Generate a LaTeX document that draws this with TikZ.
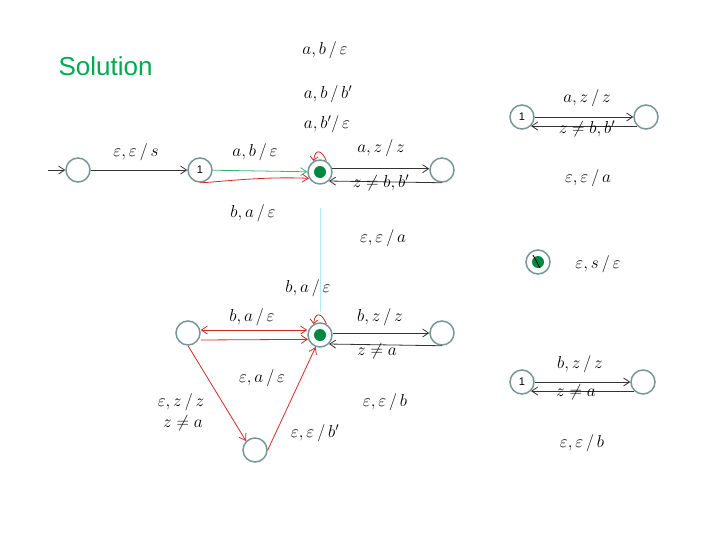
\documentclass[tikz,border=0pt]{standalone}
\usepackage{fontspec}
\setsansfont{Liberation Sans}
\usetikzlibrary{arrows.meta}
\definecolor{sgreen}{RGB}{0,170,80}
\definecolor{ring}{RGB}{120,150,150}
\definecolor{rd}{RGB}{210,40,40}
\definecolor{gr}{RGB}{60,180,120}
\begin{document}
\begin{tikzpicture}[x=1pt,y=-1pt,
 st/.style={circle,draw=ring,line width=1.5pt,minimum size=24pt,inner sep=0pt,font=\sffamily\fontsize{11}{12}\selectfont},
 acc/.style={st,path picture={\fill[sgreen!80!black] (path picture bounding box.center) circle (6pt);}},
 lb/.style={font=\fontsize{18.5}{20}\selectfont},
 ar/.style={-{Straight Barb[length=6pt,width=8pt]},line width=0.8pt},
 bk/.style={ar,black!80},
 rr/.style={ar,rd},
]
\useasboundingbox (0,0) rectangle (728,546);
\node[font=\sffamily\fontsize{26}{28}\selectfont,text=sgreen,anchor=west] (title) at (55,66) {Solution};
% top
\coordinate (s0) at (48,170);
\node[st] (a) at (78,170) {};
\node[st] (q1) at (200,170) {1};
\node[acc] (q2) at (320,172) {};
\node[st] (q3) at (442,170) {};
\draw[bk] (s0) -- (a);
\draw[bk] (a) -- (q1);
\draw[ar,gr] (q1) -- (q2);
\draw[rr] (q1.south) .. controls (210,183) and (260,176) .. (q2.210);
\draw[rd,-{Straight Barb[length=4pt]},line width=0.8pt] (q2.60) .. controls (322,150) and (315,148) .. (q2.120);
\draw[bk] (q2.15) -- (q3.west|-q2.15);
\draw[bk] (q3.south) -- (q2.south east);
\draw[cyan!30,line width=0.6pt] (320,208) -- (320,312);
% bottom
\node[st] (l) at (188,333) {};
\node[acc] (c) at (320,335) {};
\node[st] (r) at (442,333) {};
\node[st] (b) at (255,450) {};
\draw[rd,{Straight Barb[length=6pt,width=8pt]}-{Straight Barb[length=6pt,width=8pt]},line width=0.8pt] (l.east|-0,330) -- (c.west|-0,330);
\draw[rr] (l.east|-0,340) -- (c.200);
\draw[rd,-{Straight Barb[length=4pt]},line width=0.8pt] (c.60) .. controls (322,313) and (315,311) .. (c.120);
\draw[bk] (c.east|-0,333) -- (r.west);
\draw[bk] (r.south) -- (c.south east);
\draw[rr] (l.south) -- (b.north west);
\draw[rr] (b.east) -- (c.250);
% right panel
\node[st] (p1) at (522,117) {1};
\node[st] (p2) at (646,117) {};
\draw[bk] (p1.east) -- (p2.west);
\draw[bk] (p2.south west) -- (p1.south east);
\node[acc] (pd) at (538,262) {};
\draw[black,line width=0.8pt] (533,255) -- (540,268);
\node[st] (p3) at (522,382) {1};
\node[st] (p4) at (643,382) {};
\draw[bk] (p3.east) -- (p4.west);
\draw[bk] (p4.south west) -- (p3.south east);
% labels
\node[lb] (t1) at (325,50) {$a,b\,/\,\varepsilon$};
\node[lb] (t2) at (328,94) {$a,b\,/\,b'$};
\node[lb] (t3) at (327,124) {$a,b'/\,\varepsilon$};
\node[lb] (t4) at (136,152) {$\varepsilon,\varepsilon\,/\,s$};
\node[lb] (t5) at (255,152) {$a,b\,/\,\varepsilon$};
\node[lb] (t6) at (381,148) {$a,z\,/\,z$};
\node[lb] (t7) at (381,183) {$z\neq b,b'$};
\node[lb] (t8) at (253,213) {$b,a\,/\,\varepsilon$};
\node[lb] (t9) at (383,238) {$\varepsilon,\varepsilon\,/\,a$};
\node[lb] (t10) at (308,288) {$b,a\,/\,\varepsilon$};
\node[lb] (t11) at (252,317) {$b,a\,/\,\varepsilon$};
\node[lb] (t12) at (380,317) {$b,z\,/\,z$};
\node[lb] (t13) at (377,351) {$z\neq a$};
\node[lb] (t14) at (262,378) {$\varepsilon,a\,/\,\varepsilon$};
\node[lb] (t15) at (181,402) {$\varepsilon,z\,/\,z$};
\node[lb] (t16) at (183,423) {$z\neq a$};
\node[lb] (t17) at (385,402) {$\varepsilon,\varepsilon\,/\,b$};
\node[lb] (t18) at (315,433) {$\varepsilon,\varepsilon\,/\,b'$};
\node[lb] (r1) at (587,98) {$a,z\,/\,z$};
\node[lb] (r2) at (587,129) {$z\neq b,b'$};
\node[lb] (r3) at (588,178) {$\varepsilon,\varepsilon\,/\,a$};
\node[lb] (r4) at (598,264) {$\varepsilon,s\,/\,\varepsilon$};
\node[lb] (r5) at (580,364) {$b,z\,/\,z$};
\node[lb] (r6) at (576,392) {$z\neq a$};
\node[lb] (r7) at (582,443) {$\varepsilon,\varepsilon\,/\,b$};
\end{tikzpicture}
\end{document}
